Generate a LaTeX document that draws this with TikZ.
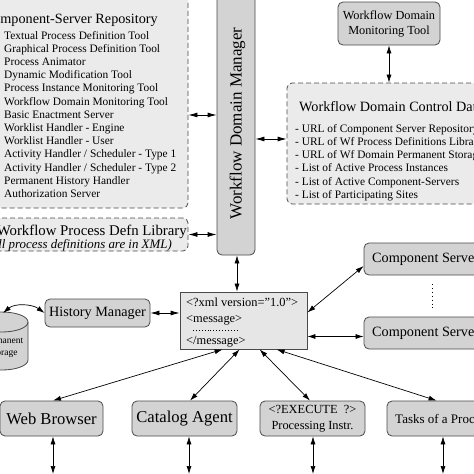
\documentclass[tikz,border=0pt]{standalone}
\usepackage{fontspec}
\setmainfont{Liberation Serif}
\usetikzlibrary{arrows.meta}
\definecolor{boxgray}{HTML}{D3D3D3}
\definecolor{palegray}{HTML}{EBEBEB}
\definecolor{xmlgray}{HTML}{E6E6E6}
\definecolor{edgegray}{HTML}{4A4A4A}
\begin{document}
\begin{tikzpicture}[x=1pt,y=-1pt,
  solidbox/.style={draw=edgegray, fill=boxgray, rounded corners=5pt, line width=0.8pt, inner sep=0pt},
  dashbox/.style={draw=edgegray, fill=palegray, dash pattern=on 5pt off 3pt, rounded corners=5pt, line width=0.8pt, inner sep=0pt},
  plainbox/.style={draw=edgegray, fill=xmlgray, line width=0.8pt, inner sep=0pt},
  conn/.style={{Latex[length=8pt,width=5pt]}-{Latex[length=8pt,width=5pt]}, line width=0.7pt, black},
  dconn/.style={{Latex[length=9pt,width=5pt]}-{Latex[length=9pt,width=5pt]}, line width=0.8pt, black},
  txt/.style={inner sep=0pt},
  big/.style={font=\fontsize{14.2}{16}\selectfont},
  mid/.style={font=\fontsize{12.4}{14}\selectfont},
  small/.style={font=\fontsize{11.4}{13}\selectfont},
  huge/.style={font=\fontsize{16.6}{18}\selectfont},
]
\useasboundingbox (0,0) rectangle (474,474);
\clip (0,0) rectangle (474,474);

% Component-Server Repository
\node[dashbox, minimum width=220pt, minimum height=220pt] (repo) at (78,98) {};
\node[txt, big, anchor=base east] (repot) at (158,23) {Component-Server Repository};
\foreach \t [count=\i from 0] in {Textual Process Definition Tool, Graphical Process Definition Tool, Process Animator, Dynamic Modification Tool, Process Instance Monitoring Tool, Workflow Domain Monitoring Tool, Basic Enactment Server, Worklist Handler - Engine, Worklist Handler - User, Activity Handler / Scheduler - Type 1, Activity Handler / Scheduler - Type 2, Permanent History Handler, Authorization Server}
  \node[txt, small, anchor=base west] (repoi\i) at (4,{39+13.2*\i}) {\t};

% Workflow Domain Manager
\node[solidbox, minimum width=38pt, minimum height=270pt] (wdm) at (236,120) {};
\node[txt, font=\fontsize{17}{19}\selectfont, rotate=90] (wdmt) at (237.5,123.5) {Workflow Domain Manager};

% Workflow Domain Monitoring Tool
\node[solidbox, minimum width=102pt, minimum height=43pt, font=\fontsize{12.3}{15}\selectfont, align=center] (mon) at (389,23.5) {Workflow Domain\\Monitoring Tool};

% Workflow Domain Control Data
\node[dashbox, minimum width=213pt, minimum height=121pt] (ctrl) at (393.5,143.5) {};
\node[txt, big, anchor=base west] (ctrlt) at (299,111) {Workflow Domain Control Data};
\foreach \t [count=\i from 0] in {- URL of Component Server Repository, - URL of Wf Process Definitions Library, - URL of Wf Domain Permanent Storage, - List of Active Process Instances, - List of Active Component-Servers, - List of Participating Sites}
  \node[txt, small, anchor=base west] (ctrli\i) at (295,{132+13.3*\i}) {\t};

% Workflow Process Defn Library
\node[dashbox, minimum width=220pt, minimum height=33pt] (lib) at (78,234.5) {};
\node[txt, font=\fontsize{14.8}{16}\selectfont, anchor=base east] (libt) at (187,235.5) {Workflow Process Defn Library};
\node[txt, font=\fontsize{12.9}{14}\selectfont, anchor=base east] (libi) at (172,248.5) {\itshape (all process definitions are in XML)};

% XML message
\node[plainbox, minimum width=127pt, minimum height=57pt] (xml) at (243.5,320.5) {};
\node[txt, mid, anchor=base west] (xml1) at (186,306) {<?xml version="1.0">};
\node[txt, mid, anchor=base west] (xml2) at (186,322) {<message>};
\draw[black, line width=0.8pt, dash pattern=on 0.8pt off 2.1pt] (193,330) -- (237,330);
\node[txt, mid, anchor=base west] (xml4) at (186,344) {</message>};

% History Manager
\node[solidbox, minimum width=105pt, minimum height=28pt, big] (hm) at (97.5,313) {History Manager};

% Permanent Storage cylinder
\fill[boxgray] (-24,322) -- (-24,360) arc[start angle=180, end angle=360, x radius=26pt, y radius=10pt]
  -- (28,322) arc[start angle=0, end angle=180, x radius=26pt, y radius=10pt] -- cycle;
\draw[edgegray, line width=0.8pt] (-24,322) -- (-24,360) arc[start angle=180, end angle=360, x radius=26pt, y radius=10pt]
  -- (28,322) arc[start angle=0, end angle=180, x radius=26pt, y radius=10pt];
\draw[edgegray, line width=0.8pt] (-24,322) arc[start angle=180, end angle=360, x radius=26pt, y radius=10pt];
\coordinate (store) at (3,313);
\node[txt, font=\fontsize{9.5}{12}\selectfont, align=center] (storet) at (3,347) {Permanent\\Storage};

% Component Servers
\node[solidbox, minimum width=136pt, minimum height=32pt] (cs1) at (432,259) {};
\node[txt, big, anchor=west] (cs1t) at (372,259) {Component Server};
\node[solidbox, minimum width=136pt, minimum height=32pt] (cs2) at (432,333) {};
\node[txt, big, anchor=west] (cs2t) at (372,333) {Component Server};
\draw[black, line width=0.9pt, dash pattern=on 0.9pt off 3pt] (432,284) -- (432,311);

% Bottom row
\node[solidbox, minimum width=103pt, minimum height=35pt, huge] (web) at (51.5,418.5) {Web Browser};
\node[solidbox, minimum width=105pt, minimum height=35pt, huge] (cat) at (184.5,418.5) {Catalog Agent};
\node[solidbox, minimum width=105pt, minimum height=35pt, font=\fontsize{12.4}{13}\selectfont, align=center] (exec) at (312.5,418.5) {<?EXECUTE\ \ ?>\\[3pt]Processing Instr.};
\node[solidbox, minimum width=133pt, minimum height=35pt] (tasks) at (453.5,418.5) {};
\node[txt, font=\fontsize{13}{15}\selectfont, anchor=west] (taskt) at (395,418.5) {Tasks of a Process};

\coordinate (webb) at (53,474);
\coordinate (catb) at (189,474);
\coordinate (execb) at (313,474);
\coordinate (tasksb) at (443,474);

% Connectors
\draw[dconn] ([yshift=-17pt]repo.east) -- ([yshift=-17pt]repo.east -| wdm.west);
\draw[dconn] (lib.east) -- (lib.east -| wdm.west);
\draw[dconn] ([yshift=4.5pt]ctrl.west) -- ([yshift=4.5pt]ctrl.west -| wdm.east);
\draw[conn] (mon.south) -- (mon.south |- ctrl.north);
\draw[conn] (wdm.south -| 237,0) -- (xml.north -| 237,0);
\draw[dconn] (hm.east) -- (hm.east -| xml.west);
\draw[conn] (store) .. controls (15,303) and (32,304) .. (hm.west);
\draw[conn] ([yshift=8pt]xml.east) -- ([yshift=-7pt]cs1.west);
\draw[conn] ([yshift=-16pt]xml.east) -- ([yshift=-16pt]xml.east -| cs2.west);

\draw[conn] ([xshift=43pt]xml.south west) -- ([xshift=1.5pt]web.north);
\draw[conn] ([xshift=60pt]xml.south west) -- ([xshift=5.5pt]cat.north);
\draw[conn] ([xshift=80pt]xml.south west) -- ([xshift=-2.5pt]exec.north);
\draw[conn] ([xshift=97pt]xml.south west) -- ([xshift=50pt]tasks.north west);

\draw[conn] (web.south -| webb) -- (webb);
\draw[conn] (cat.south -| catb) -- (catb);
\draw[conn] (exec.south -| execb) -- (execb);
\draw[conn] (tasks.south -| tasksb) -- (tasksb);
\end{tikzpicture}
\end{document}
